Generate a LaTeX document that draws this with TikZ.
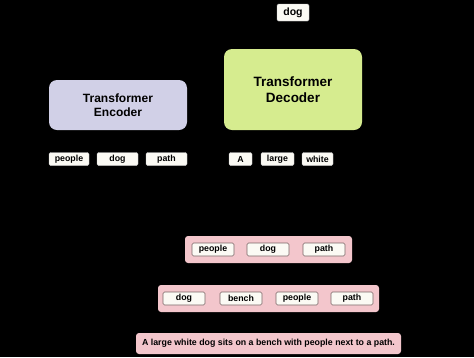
\documentclass[tikz,border=0pt]{standalone}
\usepackage{fontspec}
\setmainfont{Liberation Sans}
\definecolor{encfill}{HTML}{D1D0E7}
\definecolor{decfill}{HTML}{D6EC8F}
\definecolor{pinkfill}{HTML}{F3C6CC}
\definecolor{tokfill}{HTML}{FBFAF4}
\definecolor{tokline}{HTML}{7A6666}
\begin{document}
\begin{tikzpicture}[x=1pt,y=-1pt,
    block/.style={fill=#1,rounded corners=8pt,align=center,inner sep=0pt,
      font=\bfseries\fontsize{12}{14}\selectfont},
    tok/.style={draw=gray!45,fill=tokfill,rounded corners=1.5pt,inner sep=0pt,
      minimum height=13pt,font=\bfseries\fontsize{8.8}{10}\selectfont},
    ptok/.style={tok,draw=tokline,line width=0.6pt,minimum width=42pt},
    strip/.style={fill=pinkfill,rounded corners=3pt,inner sep=0pt}]
    \fill[black] (0,0) rectangle (474,357);
    % encoder / decoder
    \node[block=encfill,minimum width=138pt,minimum height=50pt] (enc) at (118,105)
        {Transformer\\Encoder};
    \node[block=decfill,minimum width=138pt,minimum height=81pt,
        font=\bfseries\fontsize{13.5}{16}\selectfont] (dec) at (293,89.5)
        {Transformer\\Decoder};
    \node[tok,minimum width=32pt,minimum height=17pt,
        font=\bfseries\fontsize{10.5}{12}\selectfont] (out) at (293,12.5) {dog};
    % input tokens
    \foreach \w/\x/\tw [count=\i] in {people/69/40,dog/117.5/41,path/166.5/41}
        \node[tok,minimum width=\tw pt] (in\i) at (\x,159) {\w};
    \foreach \w/\x/\tw [count=\i] in {A/240.5/23,large/277.5/33,white/317.5/31}
        \node[tok,minimum width=\tw pt] (prev\i) at (\x,159) {\w};
    % pink strips
    \node[strip,minimum width=167pt,minimum height=27pt] (rowa) at (268.5,249.5) {};
    \foreach \w/\x [count=\i] in {people/213,dog/268,path/324}
        \node[ptok] (a\i) at (\x,249.5) {\w};
    \node[strip,minimum width=221pt,minimum height=27pt] (rowb) at (268.5,298.5) {};
    \foreach \w/\x [count=\i] in {dog/184,bench/241,people/297,path/352}
        \node[ptok] (b\i) at (\x,298.5) {\w};
    \node[strip,minimum width=265pt,minimum height=21pt,
        font=\bfseries\fontsize{8.8}{10}\selectfont] (cap) at (268.5,343.5)
        {A large white dog sits on a bench with people next to a path.};
\end{tikzpicture}
\end{document}
